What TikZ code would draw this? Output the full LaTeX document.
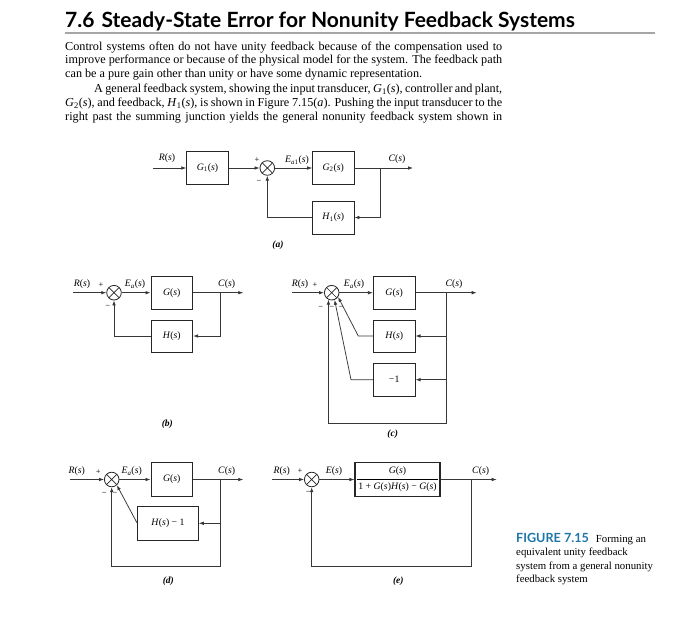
\documentclass[tikz,border=0pt]{standalone}
\usepackage{fontspec}
\setmainfont{Liberation Serif}
\newfontfamily\titlefont{Lato}
\usetikzlibrary{arrows.meta}
\definecolor{figblue}{RGB}{28,118,170}
\definecolor{lnc}{RGB}{55,55,55}
\newcommand\fs[1]{\textit{#1}(\textit{s})}
\newcommand\sfn[2]{\textit{#1}\textsubscript{#2}(\textit{s})}
\begin{document}
\begin{tikzpicture}[x=1pt,y=-1pt,
  blk/.style={draw=black!85, line width=0.9pt, minimum height=33pt, inner sep=0pt, font=\fontsize{9.8}{11}\selectfont},
  sumj/.style={draw=black!85, line width=0.8pt, circle, minimum size=14.6pt, inner sep=0pt,
    path picture={\draw[line width=0.7pt,black!85] (path picture bounding box.north west) -- (path picture bounding box.south east)
      (path picture bounding box.north east) -- (path picture bounding box.south west);}},
  con/.style={draw=lnc, line width=0.75pt},
  arr/.style={con, -{Latex[length=5pt,width=3.6pt]}},
  lbl/.style={inner sep=0pt, font=\fontsize{9.8}{11}\selectfont},
  sgn/.style={inner sep=0pt, font=\fontsize{8.5}{10}\selectfont},
  figlbl/.style={inner sep=0pt, font=\fontsize{9.5}{11}\selectfont\bfseries\itshape},
  body/.style={inner sep=0pt, anchor=base west, font=\fontsize{12.2}{14}\selectfont}
]
\useasboundingbox (0,0) rectangle (700,626);
\fill[white] (0,0) rectangle (700,626);

% ---------- title and text ----------
\node[inner sep=0pt, anchor=base west, font=\titlefont\bfseries\fontsize{21}{24}\selectfont] (title) at (65,28)
  {7.6\hspace{7pt}Steady-State Error for Nonunity Feedback Systems};
\draw[line width=2pt, black!35] (65,33.5) coordinate (rl) -- (655,33.5) coordinate (rr);

\node[body] (t1) at (65,50.2) {\makebox[437pt][s]{Control systems often do not have unity feedback because of the compensation used to}};
\node[body] (t2) at (65,63.8) {\makebox[437pt][s]{improve performance or because of the physical model for the system. The feedback path}};
\node[body] (t3) at (65,77.8) {\makebox[357pt][s]{can be a pure gain other than unity or have some dynamic representation.}};
\node[body] (t4) at (65,92.5) {\makebox[437pt][s]{\hspace*{29pt}A general feedback system, showing the input transducer, \sfn{G}{1}, controller and plant,}};
\node[body] (t5) at (65,106.5) {\makebox[437pt][s]{\sfn{G}{2}, and feedback, \sfn{H}{1}, is shown in Figure 7.15(\textit{a}). Pushing the input transducer to the}};
\node[body] (t6) at (65,120) {\makebox[437pt][s]{right past the summing junction yields the general nonunity feedback system shown in}};

% ---------- (a) ----------
\node[blk, minimum width=41.6pt] (G1) at (207.5,168) {\sfn{G}{1}};
\node[sumj] (sa) at (267.3,168) {};
\node[blk, minimum width=41.3pt] (G2) at (333.3,168) {\sfn{G}{2}};
\node[blk, minimum width=41.3pt] (H1) at (333.3,217.5) {\sfn{H}{1}};
\coordinate (ain) at (153,168);
\coordinate (aout) at (413,168);
\coordinate (abr) at (380,168);
\draw[arr] (ain) -- (G1);
\draw[arr] (G1) -- (sa);
\draw[arr] (sa) -- (G2);
\draw[arr] (G2) -- (aout);
\draw[arr] (abr) |- (H1);
\draw[arr] (H1) -| (sa);
\node[lbl] (aR) at (167,158) {\fs{R}};
\node[sgn] (ap) at (257,160) {+};
\node[sgn] (am) at (259,182) {−};
\node[lbl] (aE) at (297,160.5) {\textit{E}\textsubscript{\textit{a}1}(\textit{s})};
\node[lbl] (aC) at (397,159) {\fs{C}};
\node[figlbl] (la) at (278,245) {(a)};

% ---------- (b) ----------
\node[sumj] (sb) at (114,292.7) {};
\node[blk, minimum width=41.7pt] (Gb) at (171.8,292.7) {\fs{G}};
\node[blk, minimum width=41.7pt, minimum height=32pt] (Hb) at (171.8,336) {\fs{H}};
\coordinate (bin) at (73,292.7);
\coordinate (bout) at (243.3,292.7);
\coordinate (bbr) at (220,292.7);
\draw[arr] (bin) -- (sb);
\draw[arr] (sb) -- (Gb);
\draw[arr] (Gb) -- (bout);
\draw[arr] (bbr) |- (Hb);
\draw[arr] (Hb) -| (sb);
\node[lbl] (bR) at (82,284.5) {\fs{R}};
\node[sgn] (bp) at (101,285) {+};
\node[sgn] (bm) at (107.7,306.7) {−};
\node[lbl] (bE) at (135,284.5) {\textit{E}\textsubscript{\textit{a}}(\textit{s})};
\node[lbl] (bC) at (226.7,284.5) {\fs{C}};
\node[figlbl] (lb) at (167.3,424.3) {(b)};

% ---------- (c) ----------
\node[sumj] (sc) at (331.7,292.7) {};
\node[blk, minimum width=41.7pt] (Gc) at (394.2,292.7) {\fs{G}};
\node[blk, minimum width=41.7pt, minimum height=32pt] (Hc) at (394.2,336) {\fs{H}};
\node[blk, minimum width=41.7pt, minimum height=32.5pt] (Mc) at (394.2,379.7) {−1};
\coordinate (cin) at (291.7,292.7);
\coordinate (cout) at (476.7,292.7);
\coordinate (cbr) at (446.7,292.7);
\coordinate (cbr2) at (446.7,423.3);
\coordinate (chk) at (358.3,336);
\coordinate (cmk) at (351,379.7);
\coordinate (cbl) at (sc.-115 |- cbr2);
\draw[arr] (cin) -- (sc);
\draw[arr] (sc) -- (Gc);
\draw[arr] (Gc) -- (cout);
\draw[arr] (cbr) |- (Hc);
\draw[arr] (cbr) |- (Mc);
\draw[arr] (Hc) -- (chk) -- (sc.-34);
\draw[arr] (Mc) -- (cmk) -- (sc.-68);
\draw[arr] (cbr2) -- (cbl) -- (sc.-115);
\draw[con] (cbr) -- (cbr2);
\node[lbl] (cR) at (300,284.5) {\fs{R}};
\node[sgn] (cp) at (315,285) {+};
\node[sgn] (cm1) at (320.7,307.7) {−};
\node[sgn] (cm2) at (331.7,307.7) {−};
\node[sgn] (cm3) at (341,307.7) {−};
\node[lbl] (cE) at (354,284.5) {\textit{E}\textsubscript{\textit{a}}(\textit{s})};
\node[lbl] (cC) at (454,284.5) {\fs{C}};
\node[figlbl] (lc) at (392.7,434.3) {(c)};

% ---------- (d) ----------
\node[sumj] (sd) at (111.7,479.5) {};
\node[blk, minimum width=41.7pt, minimum height=33.4pt] (Gd) at (171.8,479.5) {\fs{G}};
\node[blk, minimum width=60.6pt, minimum height=33.3pt] (HMd) at (168,523.3) {\fs{H} − 1};
\coordinate (din) at (70,479.5);
\coordinate (dout) at (243.3,479.5);
\coordinate (dbr) at (220,479.5);
\coordinate (dbr2) at (220,566.7);
\coordinate (dbl) at (111.7,566.7);
\draw[arr] (din) -- (sd);
\draw[arr] (sd) -- (Gd);
\draw[arr] (Gd) -- (dout);
\draw[arr] (dbr) |- (HMd);
\draw[arr] (HMd.west) -- (sd.-48);
\draw[arr] (dbr) -- (dbr2) -- (dbl) -- (sd);
\node[lbl] (dR) at (76.7,471.2) {\fs{R}};
\node[sgn] (dp) at (98.3,471.7) {+};
\node[sgn] (dm1) at (104.3,494.3) {−};
\node[sgn] (dm2) at (115,494.3) {−};
\node[lbl] (dE) at (131.7,471.2) {\textit{E}\textsubscript{\textit{a}}(\textit{s})};
\node[lbl] (dC) at (226.7,471.2) {\fs{C}};
\node[figlbl] (ld) at (168.3,581.7) {(d)};

% ---------- (e) ----------
\node[sumj] (se) at (311.7,479.5) {};
\node[blk, line width=1.1pt, minimum width=85pt, minimum height=34.7pt] (Fe) at (397.5,479.5)
  {\begin{tabular}{@{\hspace{1pt}}c@{\hspace{1pt}}}\fs{G}\\[1.5pt]\hline\rule{0pt}{10.5pt}1 + \fs{G}\fs{H} − \fs{G}\end{tabular}};
\coordinate (ein) at (271.7,479.5);
\coordinate (eout) at (496.7,479.5);
\coordinate (ebr) at (471.7,479.5);
\coordinate (ebr2) at (471.7,566.7);
\coordinate (ebl) at (311.7,566.7);
\draw[arr] (ein) -- (se);
\draw[arr] (se) -- (Fe);
\draw[arr] (Fe) -- (eout);
\draw[arr] (ebr) -- (ebr2) -- (ebl) -- (se);
\node[lbl] (eR) at (281.7,471.2) {\fs{R}};
\node[sgn] (ep) at (300,471) {+};
\node[sgn] (em) at (308.3,493.3) {−};
\node[lbl] (eE) at (334,471.2) {\fs{E}};
\node[lbl] (eC) at (480.7,471) {\fs{C}};
\node[figlbl] (le) at (398.3,581.7) {(e)};

% ---------- caption (base = last line) ----------
\node[inner sep=0pt, anchor=base west, align=left, font=\fontsize{10.8}{13.3}\selectfont] (capt) at (516,582.5)
  {{\color{figblue}\titlefont\bfseries\fontsize{12.6}{13.3}\selectfont FIGURE 7.15}\hspace{7pt}Forming an\\equivalent unity feedback\\system from a general nonunity\\feedback system};
\end{tikzpicture}
\end{document}
